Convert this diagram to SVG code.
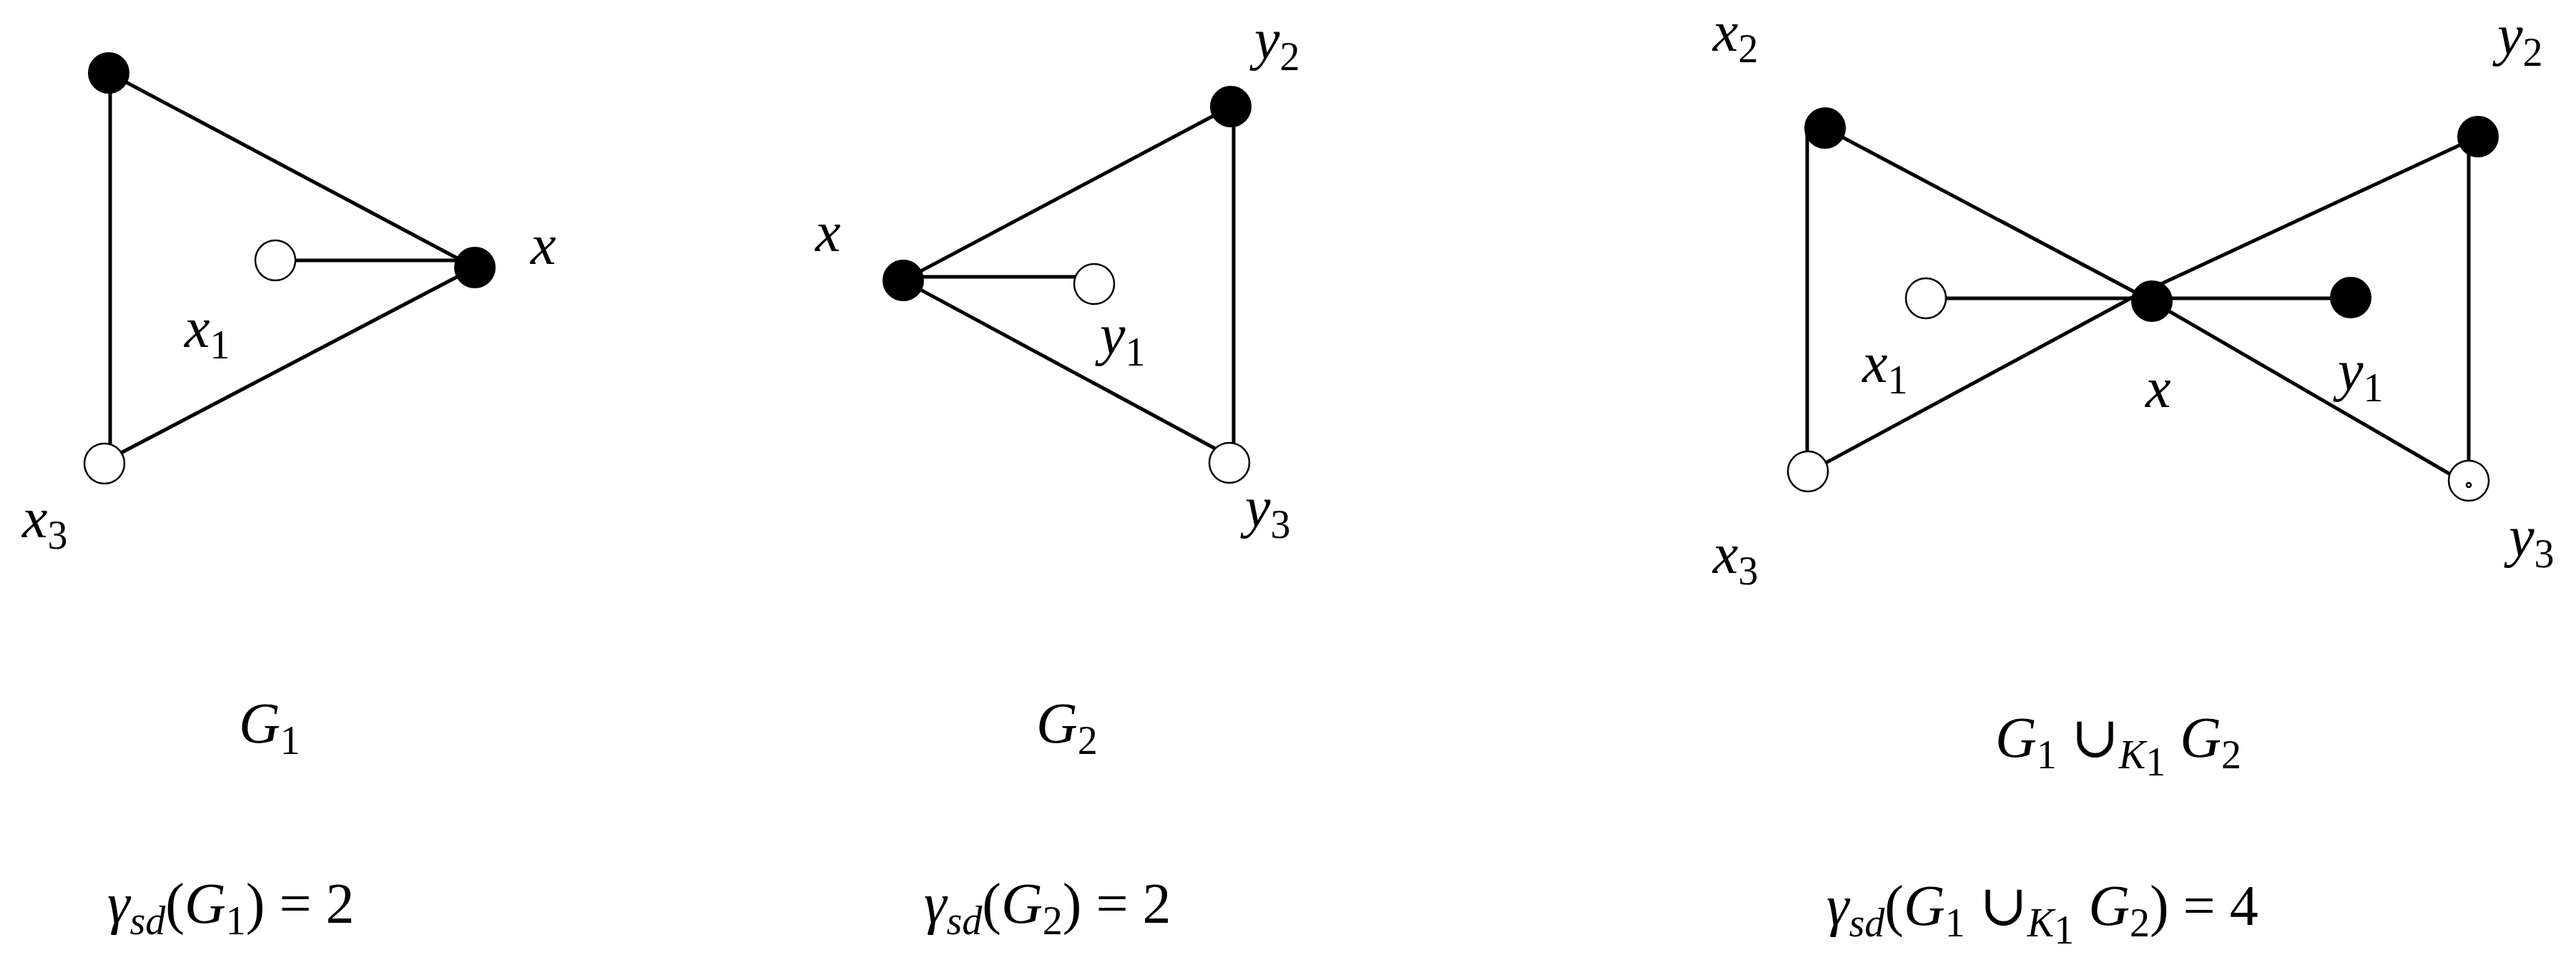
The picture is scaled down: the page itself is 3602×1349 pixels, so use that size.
<svg xmlns="http://www.w3.org/2000/svg" width="3602" height="1349" viewBox="0 0 3602 1349">
<style>
.e{stroke:#000;stroke-width:5;fill:none}
.f{fill:#000;stroke:#000;stroke-width:2}
.o{fill:#fff;stroke:#000;stroke-width:2.5}
text{font-family:"Liberation Serif","DejaVu Serif",serif;font-size:80px;fill:#000}
.i{font-style:italic}
.s{font-size:56px}
</style>
<rect width="3602" height="1349" fill="#fff"/>
<g id="connectors">
<line class="e" x1="154" y1="102" x2="154" y2="641"/>
<line class="e" x1="152" y1="102" x2="664" y2="374"/>
<line class="e" x1="154" y1="641" x2="664" y2="374"/>
<line class="e" x1="373" y1="364" x2="664" y2="364"/>
<line class="e" x1="1263" y1="392" x2="1721" y2="149"/>
<line class="e" x1="1263" y1="392" x2="1725" y2="641"/>
<line class="e" x1="1725" y1="149" x2="1725" y2="641"/>
<line class="e" x1="1263" y1="387" x2="1530" y2="387"/>
<line class="e" x1="2527" y1="179" x2="2527" y2="661"/>
<line class="e" x1="2552" y1="179" x2="3009" y2="421"/>
<line class="e" x1="2527" y1="661" x2="2985" y2="414"/>
<line class="e" x1="2985" y1="414" x2="3465" y2="191"/>
<line class="e" x1="3009" y1="421" x2="3452" y2="678"/>
<line class="e" x1="3452" y1="191" x2="3452" y2="678"/>
<line class="e" x1="2700" y1="417" x2="3009" y2="417"/>
<line class="e" x1="3009" y1="417" x2="3287" y2="417"/>
</g>
<g id="g1-x2"><circle class="f" cx="152" cy="102" r="28"/></g>
<g id="g1-x"><circle class="f" cx="664" cy="374" r="28"/><text class="i" x="742" y="369">x</text></g>
<g id="g1-x1"><circle class="o" cx="385" cy="364" r="28"/><text x="258" y="485"><tspan class="i">x</tspan><tspan class="s" dy="16">1</tspan></text></g>
<g id="g1-x3"><circle class="o" cx="146" cy="648" r="28"/><text x="31" y="751"><tspan class="i">x</tspan><tspan class="s" dy="16">3</tspan></text></g>
<g id="g2-y2"><circle class="f" cx="1721" cy="149" r="28"/><text x="1754" y="82"><tspan class="i">y</tspan><tspan class="s" dy="16">2</tspan></text></g>
<g id="g2-x"><circle class="f" cx="1263" cy="392" r="28"/><text class="i" x="1140" y="351">x</text></g>
<g id="g2-y1"><circle class="o" cx="1530" cy="397" r="28"/><text x="1538" y="495"><tspan class="i">y</tspan><tspan class="s" dy="16">1</tspan></text></g>
<g id="g2-y3"><circle class="o" cx="1719" cy="647" r="28"/><text x="1741" y="736"><tspan class="i">y</tspan><tspan class="s" dy="16">3</tspan></text></g>
<g id="u-x2"><circle class="f" cx="2552" cy="179" r="28"/><text x="2395" y="71"><tspan class="i">x</tspan><tspan class="s" dy="16">2</tspan></text></g>
<g id="u-y2"><circle class="f" cx="3465" cy="191" r="28"/><text x="3492" y="76"><tspan class="i">y</tspan><tspan class="s" dy="16">2</tspan></text></g>
<g id="u-x"><circle class="f" cx="3009" cy="421" r="28"/><text class="i" x="3000" y="569">x</text></g>
<g id="u-x1"><circle class="o" cx="2693" cy="417" r="28"/><text x="2604" y="534"><tspan class="i">x</tspan><tspan class="s" dy="16">1</tspan></text></g>
<g id="u-y1"><circle class="f" cx="3287" cy="416" r="28"/><text x="3269" y="545"><tspan class="i">y</tspan><tspan class="s" dy="16">1</tspan></text></g>
<g id="u-x3"><circle class="o" cx="2528" cy="659" r="28"/><text x="2395" y="801"><tspan class="i">x</tspan><tspan class="s" dy="16">3</tspan></text></g>
<g id="u-y3"><circle class="o" cx="3452" cy="672" r="28"/><circle class="o" cx="3452" cy="678" r="3"/><text x="3508" y="777"><tspan class="i">y</tspan><tspan class="s" dy="16">3</tspan></text></g>
<g id="captions">
<text x="334" y="1038"><tspan class="i">G</tspan><tspan class="s" dy="16">1</tspan></text>
<text x="1449" y="1038"><tspan class="i">G</tspan><tspan class="s" dy="16">2</tspan></text>
<text x="2790" y="1058"><tspan class="i">G</tspan><tspan class="s" dy="16">1</tspan><tspan dy="-16"> ∪</tspan><tspan class="s i" dy="16">K</tspan><tspan class="s" dy="10" font-size="40">1</tspan><tspan dy="-26"> </tspan><tspan class="i">G</tspan><tspan class="s" dy="16">2</tspan></text>
<text x="150" y="1290"><tspan class="i">γ</tspan><tspan class="s i" dy="16">sd</tspan><tspan dy="-16">(</tspan><tspan class="i">G</tspan><tspan class="s" dy="16">1</tspan><tspan dy="-16">) = 2</tspan></text>
<text x="1292" y="1290"><tspan class="i">γ</tspan><tspan class="s i" dy="16">sd</tspan><tspan dy="-16">(</tspan><tspan class="i">G</tspan><tspan class="s" dy="16">2</tspan><tspan dy="-16">) = 2</tspan></text>
<text x="2554" y="1293"><tspan class="i">γ</tspan><tspan class="s i" dy="16">sd</tspan><tspan dy="-16">(</tspan><tspan class="i">G</tspan><tspan class="s" dy="16">1</tspan><tspan dy="-16"> ∪</tspan><tspan class="s i" dy="16">K</tspan><tspan class="s" dy="10" font-size="40">1</tspan><tspan dy="-26"> </tspan><tspan class="i">G</tspan><tspan class="s" dy="16">2</tspan><tspan dy="-16">) = 4</tspan></text>
</g>
</svg>
